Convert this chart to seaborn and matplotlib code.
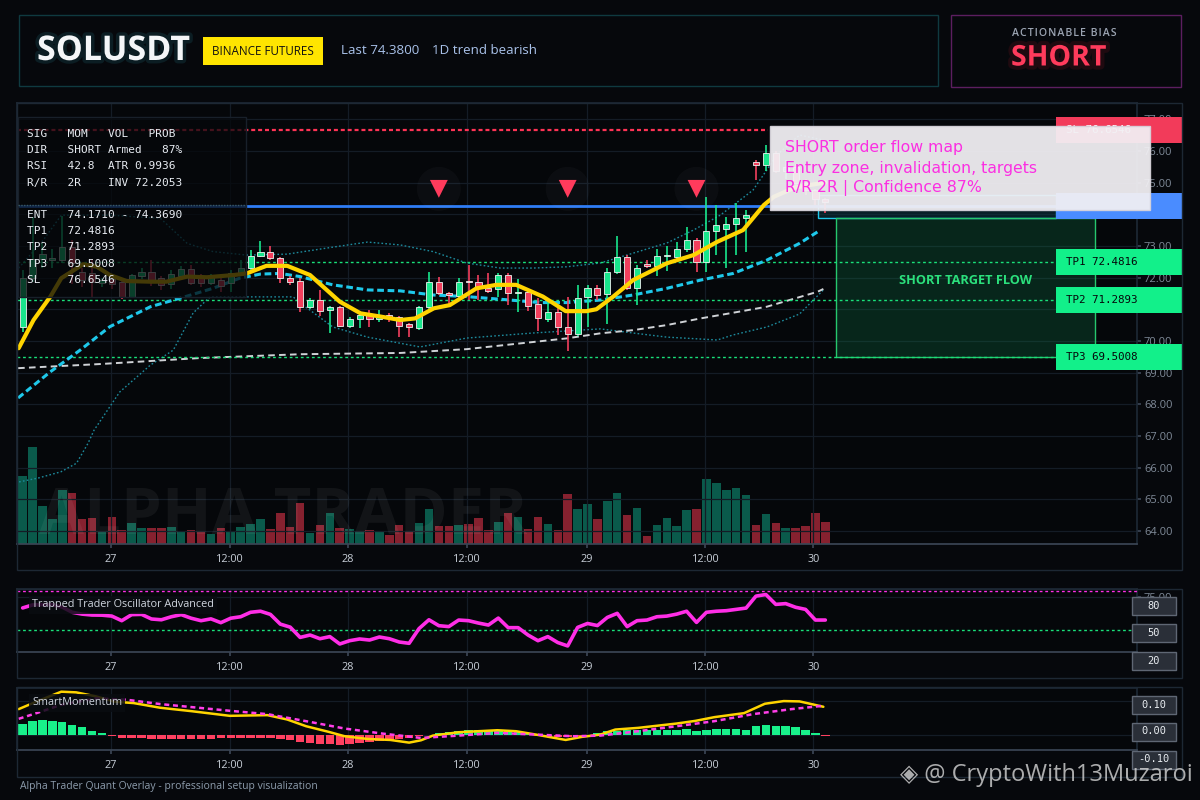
import matplotlib
matplotlib.use("Agg")
import matplotlib.pyplot as plt
import matplotlib.patheffects as pe
from matplotlib.patches import Rectangle
import numpy as np
import pandas as pd
import seaborn as sns

# hourly SOLUSDT candles
opens = [70.45, 72.00, 72.60, 72.55, 72.57, 72.97, 72.16, 72.13, 71.83, 71.95,
         71.87, 71.40, 72.06, 72.19, 71.98, 71.80, 72.06, 72.26, 72.03, 71.84,
         71.92, 71.82, 72.13, 72.31, 72.68, 72.80, 72.61, 72.00, 71.89, 71.06,
         71.29, 70.97, 71.06, 70.48, 70.68, 70.82, 70.68, 70.82, 70.75, 70.53,
         70.42, 71.06, 71.87, 71.50, 71.43, 71.88, 71.85, 71.66, 71.63, 72.08,
         71.52, 71.54, 71.16, 70.70, 70.90, 70.43, 70.21, 71.38, 71.66, 71.48,
         72.16, 72.64, 71.66, 72.43, 72.37, 72.67, 72.66, 72.89, 73.19, 72.50,
         73.46, 73.52, 73.69, 73.87, 75.66, 75.56, 75.93, 75.35, 75.50, 75.00,
         74.75, 74.48]
highs = [72.24, 73.90, 73.10, 72.90, 73.93, 73.20, 72.30, 72.60, 72.00, 72.10,
         72.00, 72.12, 72.30, 72.55, 72.05, 72.25, 72.35, 72.40, 72.10, 72.10,
         72.00, 72.24, 72.55, 72.87, 73.15, 73.01, 72.65, 72.05, 72.00, 71.35,
         71.61, 71.10, 71.10, 70.75, 70.85, 70.98, 70.98, 70.87, 70.80, 70.57,
         71.10, 72.17, 72.01, 71.55, 72.00, 72.40, 72.09, 72.15, 72.13, 72.13,
         71.94, 71.60, 71.34, 71.34, 71.03, 71.40, 71.76, 71.76, 71.76, 72.30,
         73.31, 72.70, 72.40, 72.55, 72.90, 73.01, 73.13, 73.60, 73.24, 74.54,
         74.29, 73.92, 74.34, 74.14, 75.71, 76.18, 76.00, 75.70, 75.60, 75.10,
         74.80, 74.52]
lows = [70.29, 71.85, 72.30, 72.30, 72.45, 71.80, 71.70, 71.40, 71.70, 71.65,
        71.31, 71.37, 71.95, 71.72, 71.60, 71.65, 71.95, 71.75, 71.70, 71.75,
        71.55, 71.55, 72.05, 72.24, 72.65, 72.55, 71.84, 71.78, 70.90, 71.00,
        70.79, 70.24, 70.45, 70.42, 70.40, 70.45, 70.60, 70.60, 70.11, 70.11,
        70.35, 71.00, 71.45, 71.16, 71.35, 71.30, 71.30, 71.50, 71.39, 71.13,
        70.90, 70.95, 70.30, 70.60, 70.19, 69.68, 70.14, 70.45, 71.30, 70.52,
        72.10, 71.60, 71.14, 72.30, 72.05, 72.20, 72.55, 72.80, 72.18, 72.18,
        72.71, 72.31, 72.71, 72.82, 75.08, 75.35, 75.30, 75.10, 74.90, 74.60,
        74.30, 74.05]
closes = [72.00, 72.60, 72.75, 72.62, 72.97, 72.45, 71.93, 71.87, 71.93, 71.80,
          71.40, 72.08, 72.19, 71.88, 71.77, 72.11, 72.26, 71.84, 71.82, 72.01,
          71.74, 72.13, 72.29, 72.69, 72.80, 72.61, 71.99, 71.87, 71.08, 71.29,
          70.96, 71.06, 70.48, 70.68, 70.82, 70.69, 70.82, 70.75, 70.48, 70.43,
          71.06, 71.85, 71.50, 71.44, 71.87, 71.86, 71.69, 71.59, 72.08, 71.52,
          71.54, 71.11, 70.71, 70.90, 70.43, 70.21, 71.34, 71.66, 71.45, 72.17,
          72.64, 71.66, 72.29, 72.37, 72.68, 72.69, 72.89, 73.19, 72.50, 73.47,
          73.66, 73.68, 73.89, 73.98, 75.56, 75.94, 75.35, 75.50, 75.00, 74.75,
          74.48, 74.38]
volumes = [204, 292, 114, 75, 162, 154, 75, 78, 39, 81,
           43, 63, 48, 48, 48, 51, 36, 43, 39, 30,
           49, 36, 51, 60, 75, 46, 93, 51, 123, 33,
           57, 93, 48, 46, 36, 43, 36, 27, 57, 36,
           63, 105, 54, 54, 57, 60, 78, 43, 66, 93,
           81, 46, 81, 60, 43, 150, 105, 120, 75, 130,
           153, 87, 108, 24, 57, 78, 54, 102, 105, 195,
           183, 162, 168, 147, 57, 90, 63, 48, 48, 54,
           93, 66]

date_ticks = [8.9, 20.9, 32.8, 44.8, 56.9, 68.9, 79.8]
date_labels = ["27", "12:00", "28", "12:00", "29", "12:00", "30"]

# overlays (x in candle index)
ema_x = [-0.4, 1.1, 2.8, 3.9, 6.1, 7.5, 8.8, 10.5, 12.9, 14.5, 16.6, 18.6, 21.3, 22.6,
         24.6, 26.7, 29.0, 32.0, 34.1, 36.1, 38.1, 39.6, 41.5, 43.1, 45.8, 47.8, 49.8,
         52.5, 54.8, 56.9, 57.9, 59.6, 61.6, 65.0, 67.7, 70.1, 72.7, 74.8, 75.8, 78.0, 81.0]
ema_y = [69.77, 70.66, 71.40, 71.98, 72.42, 72.34, 72.08, 71.89, 71.87, 71.87, 72.03, 72.01,
         72.08, 72.13, 72.37, 72.37, 72.08, 71.24, 70.87, 70.77, 70.66, 70.71, 71.03, 71.13,
         71.66, 71.77, 71.77, 71.40, 70.94, 70.94, 71.00, 71.40, 71.92, 72.45, 72.71, 73.13,
         73.50, 74.29, 74.55, 74.85, 75.00]
mid_x = [-0.46, 2.77, 5.8, 8.8, 12.9, 15.9, 19.2, 21.9, 24.0, 26.0, 28.0, 31.3, 34.8, 38.1,
         41.4, 44.8, 49.2, 52.2, 54.9, 58.3, 61.6, 65.0, 68.4, 71.7, 75.1, 78.4, 80.5]
mid_y = [68.20, 69.02, 69.71, 70.45, 71.08, 71.35, 71.66, 71.98, 72.11, 72.13, 72.03, 71.77,
         71.61, 71.58, 71.45, 71.40, 71.29, 71.21, 71.21, 71.29, 71.45, 71.66, 71.92, 72.13,
         72.55, 73.08, 73.50]
slow_x = [-0.46, 7.8, 17.9, 28.0, 38.1, 44.8, 54.9, 58.3, 61.6, 65.0, 68.4, 71.7, 75.1, 80.2, 80.8]
slow_y = [69.14, 69.27, 69.46, 69.58, 69.62, 69.74, 70.08, 70.24, 70.34, 70.50, 70.71, 70.89,
          71.08, 71.55, 71.64]
bb_up_x = [-0.4, 2.1, 3.9, 8.8, 13.9, 16.6, 19.2, 22.6, 26.7, 31.3, 34.8, 38.1, 41.4, 44.8,
           48.2, 51.5, 54.9, 58.3, 61.6, 65.0, 67.7, 70.4, 73.7, 75.1, 76.1, 78.4, 80.8]
bb_up_y = [72.30, 73.19, 73.97, 73.97, 73.87, 73.08, 72.82, 72.71, 72.74, 72.96, 73.12, 73.03,
           72.82, 72.46, 72.30, 72.30, 72.34, 72.46, 72.77, 73.09, 73.50, 73.97, 74.76, 75.40,
           75.87, 76.50, 76.34]
bb_lo_x = [-0.36, 1.55, 3.87, 5.44, 6.6, 7.2, 9.8, 12.9, 15.2, 17.2, 18.9, 27.3, 28.0, 31.3,
           34.8, 40.1, 44.8, 51.5, 58.3, 61.6, 65.0, 70.1, 71.7, 75.1, 78.4, 80.8]
bb_lo_y = [65.55, 65.67, 65.87, 66.14, 66.77, 67.18, 68.39, 69.24, 69.71, 70.88, 71.39, 71.39,
           71.20, 70.44, 70.12, 69.81, 70.09, 70.25, 70.38, 70.25, 70.12, 70.03, 70.19, 70.44,
           70.85, 71.61]

sell_idx = [42, 55, 68]
sell_level = 74.8

sl_price = 76.6546
ent_lo, ent_hi = 74.1710, 74.3690
inv_price = 72.2053
tp_names = ["TP1", "TP2", "TP3"]
tp_prices = [72.4816, 71.2893, 69.5008]
rsi, atr, prob, rr = 42.8, 0.9936, 87, "2R"

osc_values = [66.8, 69.1, 69.3, 69.3, 67.4, 63.5, 62.1, 61.4, 61.3, 60.6,
              57.1, 61.7, 61.9, 58.4, 57.8, 60.1, 61.7, 59.0, 57.1, 58.5,
              55.6, 59.0, 60.1, 63.5, 64.3, 61.9, 54.5, 52.2, 44.4, 46.2,
              43.4, 45.0, 39.4, 41.9, 43.2, 42.4, 44.7, 43.4, 40.9, 39.9,
              51.1, 57.8, 53.3, 52.6, 57.6, 57.1, 55.3, 53.8, 59.1, 51.8,
              51.8, 46.2, 41.9, 45.0, 40.5, 37.9, 52.0, 55.0, 53.4, 59.6,
              62.7, 52.6, 57.1, 57.6, 60.1, 60.6, 62.1, 64.3, 55.8, 63.5,
              64.3, 64.7, 65.7, 66.7, 75.8, 77.0, 69.5, 70.1, 67.3, 65.7,
              57.6, 57.6]
osc_levels = ["80", "50", "20"]

mom_hist = [0.034, 0.041, 0.044, 0.041, 0.040, 0.031, 0.023, 0.013, 0.007, -0.002,
            -0.008, -0.010, -0.010, -0.011, -0.011, -0.011, -0.011, -0.011, -0.011, -0.011,
            -0.010, -0.010, -0.010, -0.009, -0.009, -0.010, -0.012, -0.015, -0.020, -0.023,
            -0.026, -0.026, -0.029, -0.027, -0.023, -0.021, -0.019, -0.015, -0.012, -0.008,
            -0.003, -0.001, 0.005, 0.009, 0.012, 0.014, 0.014, 0.014, 0.013, 0.011,
            0.008, 0.003, -0.004, -0.005, -0.006, -0.006, -0.004, -0.002, 0.006, 0.011,
            0.011, 0.014, 0.014, 0.014, 0.016, 0.016, 0.016, 0.019, 0.013, 0.016,
            0.019, 0.019, 0.019, 0.016, 0.026, 0.031, 0.028, 0.026, 0.023, 0.015,
            0.007, -0.003]
mom_x = [-0.4, 1.6, 3.9, 5.4, 7.4, 9.3, 11.2, 13.9, 17.0, 20.9, 24.7, 26.7, 28.6, 30.9,
         32.5, 34.8, 37.1, 39.0, 40.2, 41.4, 44.0, 47.9, 49.8, 51.8, 54.8, 56.4, 58.3,
         59.8, 62.1, 66.0, 67.9, 69.8, 72.8, 74.9, 76.8, 78.4, 80.8]
mom_y = [0.077, 0.102, 0.129, 0.127, 0.115, 0.099, 0.095, 0.081, 0.071, 0.057, 0.059,
         0.046, 0.026, 0.009, -0.004, -0.012, -0.015, -0.023, -0.016, -0.002, 0.008,
         0.014, 0.011, 0.001, -0.015, -0.006, 0.001, 0.016, 0.021, 0.034, 0.042, 0.053,
         0.065, 0.093, 0.101, 0.100, 0.084]
sig_x = [-0.4, 1.6, 3.9, 7.4, 10.5, 13.9, 20.9, 24.7, 28.6, 32.5, 36.3, 40.2, 44.0, 47.9,
         51.8, 55.6, 58.3, 62.1, 66.0, 69.8, 73.7, 77.6, 80.8]
sig_y = [0.048, 0.067, 0.090, 0.109, 0.105, 0.092, 0.072, 0.062, 0.041, 0.019, 0.004,
         -0.009, -0.002, 0.006, 0.001, -0.004, -0.002, 0.011, 0.026, 0.041, 0.062, 0.077,
         0.087]
mom_levels = ["0.10", "0.00", "-0.10"]

BG = "#06080c"
PANEL = "#05070a"
GRID = "#141c26"
FRAME = "#1d2834"
GREEN = "#18e68c"
RED = "#f23f5d"
MONO = "DejaVu Sans Mono"

sns.set_theme(style="dark", rc={"axes.facecolor": PANEL, "figure.facecolor": BG})
plt.rcParams["font.family"] = ["Open Sans", "DejaVu Sans"]

W, H = 1200, 800
fig = plt.figure(figsize=(12, 8), dpi=100, facecolor=BG)


def rect(x0, y0, x1, y1):
    return [x0 / W, 1 - y1 / H, (x1 - x0) / W, (y1 - y0) / H]


def fig_box(x0, y0, x1, y1, z=2, **kw):
    fig.add_artist(Rectangle((x0 / W, 1 - y1 / H), (x1 - x0) / W, (y1 - y0) / H,
                             transform=fig.transFigure, zorder=z, **kw))


def ftext(x, y, s, **kw):
    return fig.text(x / W, 1 - y / H, s, **kw)


def style_axes(a):
    a.set_facecolor(PANEL)
    for side in ["left", "top", "right"]:
        a.spines[side].set_color(FRAME)
    a.spines["bottom"].set_color("#3a4554")
    a.tick_params(axis="x", colors="#3a4554", labelcolor="#c8cfd8", labelsize=7.8,
                  length=3, pad=4, bottom=True)
    a.grid(True, color=GRID, linewidth=0.9)
    a.set_axisbelow(True)


df = pd.DataFrame({"open": opens, "high": highs, "low": lows, "close": closes,
                   "volume": volumes})
df["idx"] = np.arange(len(df))
up = df["close"] >= df["open"]

# main price panel (volume underneath on its own scale)
vol_ax = fig.add_axes(rect(17, 103, 1137, 544))
ax = fig.add_axes(rect(17, 103, 1137, 544), sharex=vol_ax)
ax.set_zorder(1)
ax.patch.set_visible(False)
vol_ax.set_facecolor(PANEL)
vol_ax.bar(df["idx"], df["volume"], width=0.86,
           color=np.where(up, "#0a5a4b", "#86212f"), linewidth=0)
vol_ax.set_ylim(0, max(volumes) * 4.55)
vol_ax.set_yticks([])
vol_ax.tick_params(bottom=False, labelbottom=False)
for s in vol_ax.spines.values():
    s.set_visible(False)

style_axes(ax)
ax.set_xlim(-0.57, 112.45)
ax.set_ylim(63.59, 77.51)
ax.set_xticks(date_ticks, date_labels)
ax.set_yticks(np.arange(64, 78))
ax.yaxis.set_major_formatter("{x:.2f}")
ax.yaxis.tick_right()
ax.tick_params(axis="y", colors="#3a4554", labelcolor="#7f8a98", labelsize=8, length=3, pad=2)
ax.set_xlabel("")
ax.set_ylabel("")

# bands and averages
sns.lineplot(x=bb_up_x, y=bb_up_y, ax=ax, color="#1d8a9c", lw=1.0,
             linestyle=(0, (1.2, 1.6)), zorder=3)
sns.lineplot(x=bb_lo_x, y=bb_lo_y, ax=ax, color="#1d8a9c", lw=1.0,
             linestyle=(0, (1.2, 1.6)), zorder=3)
sns.lineplot(x=slow_x, y=slow_y, ax=ax, color="#cfd2d6", lw=1.4,
             linestyle=(0, (3.4, 2.2)), zorder=3)
sns.lineplot(x=mid_x, y=mid_y, ax=ax, color="#1ec8ea", lw=2.2,
             linestyle=(0, (2.2, 1.2)), zorder=3.5)

# trade levels
ax.hlines(sl_price, -0.57, 75.2, color="#ff3355", lw=1.6, linestyles=[(0, (1.8, 1.3))], zorder=3)
ax.hlines((ent_lo + ent_hi) / 2, -0.57, 104.3, color="#2f7df6", lw=2.0, zorder=3)
for p in tp_prices:
    ax.hlines(p, -0.57, 104.3, color="#19e07a", lw=1.0, linestyles=[(0, (2, 2))], zorder=3)
ax.add_patch(Rectangle((80.3, ent_lo - 0.3), 24.0, ent_hi - ent_lo + 0.55,
                       facecolor="#0b3440", alpha=0.55, edgecolor="none", zorder=2))
ax.add_patch(Rectangle((80.3, ent_lo - 0.3), 24.0, ent_hi - ent_lo + 0.55,
                       facecolor="none", edgecolor="#1fc6e8", lw=1.0, zorder=2.1))
tgt_top = ent_lo - 0.3
ax.add_patch(Rectangle((82.1, tp_prices[-1]), 26.1, tgt_top - tp_prices[-1],
                       facecolor="#0e6a40", alpha=0.32, edgecolor="none", zorder=2))
ax.add_patch(Rectangle((82.1, tp_prices[-1]), 26.1, tgt_top - tp_prices[-1],
                       facecolor="none", edgecolor="#26c86e", lw=1.0, zorder=2.1))
ax.text(95.2, 71.92, "SHORT TARGET FLOW", color="#2be07c", fontsize=9.2,
        fontweight="bold", ha="center", va="center", zorder=3)

# candles
colors = np.where(up, GREEN, RED)
ax.vlines(df["idx"], df["low"], df["high"], colors=colors, lw=1.2, zorder=4)
ax.bar(df["idx"], (df["close"] - df["open"]).abs().clip(lower=0.03),
       bottom=np.minimum(df["open"], df["close"]), width=0.62, color=colors,
       edgecolor="#eef3f1", linewidth=0.6, zorder=5)

sns.lineplot(x=ema_x, y=ema_y, ax=ax, color="#ffd400", lw=3.0, zorder=6)

# sell markers with a soft halo
sns.scatterplot(x=sell_idx, y=[sell_level] * len(sell_idx), ax=ax, marker="o", s=1000,
                color="#c8c8d8", alpha=0.035, edgecolor="none", zorder=6.5)
sns.scatterplot(x=sell_idx, y=[sell_level] * len(sell_idx), ax=ax, marker="v", s=165,
                color="#ff3b5c", edgecolor="none", zorder=7)


# right-side price tags
def tag(price, text, face, tcolor):
    ax.add_patch(Rectangle((104.3, price - 0.41), 12.7, 0.82, facecolor=face,
                           edgecolor="none", clip_on=False, zorder=8))
    if text:
        ax.text(105.3, price, text, color=tcolor, fontsize=7.8, family=MONO,
                va="center", ha="left", zorder=9)


tag(sl_price, f"SL {sl_price:.4f}", "#f23b5a", "white")
tag((ent_lo + ent_hi) / 2, "", "#4a8cff", "white")
for n, p in zip(tp_names, tp_prices):
    tag(p, f"{n} {p:.4f}", "#12f08a", "#05070a")

# oscillator panel
osc_ax = fig.add_axes(rect(17, 589, 1137, 652), sharex=vol_ax)
style_axes(osc_ax)
sns.lineplot(x=df["idx"], y=osc_values, ax=osc_ax, color="#ff2ee6", lw=2.6, zorder=4)
osc_ax.axhline(80, color="#ff2ee6", lw=1.0, linestyle=(0, (2, 2)), zorder=3)
osc_ax.axhline(50, color="#19e07a", lw=1.0, linestyle=(0, (2, 2)), zorder=3)
osc_ax.set_ylim(33.3, 81.2)
osc_ax.set_yticks([75])
osc_ax.yaxis.set_major_formatter("{x:.2f}")
osc_ax.yaxis.tick_right()
osc_ax.tick_params(axis="y", colors="#3a4554", labelcolor="#7f8a98", labelsize=8, length=3, pad=2)
osc_ax.set_xticks(date_ticks, date_labels)
osc_ax.set_xlabel("")
osc_ax.set_ylabel("")
osc_ax.text(0.0134, 0.75, "Trapped Trader Oscillator Advanced", transform=osc_ax.transAxes,
            color="#cfd5de", fontsize=7.8, va="center", ha="left", zorder=6,
            bbox=dict(boxstyle="square,pad=0.3", facecolor="#090c11", edgecolor="none", alpha=0.85))

# momentum panel
mom_ax = fig.add_axes(rect(17, 688, 1137, 750), sharex=vol_ax)
style_axes(mom_ax)
mom_ax.bar(df["idx"], mom_hist, width=0.85,
           color=["#18f08a" if v >= 0 else "#ff4060" for v in mom_hist], linewidth=0, zorder=2)
sns.lineplot(x=mom_x, y=mom_y, ax=mom_ax, color="#ffd400", lw=1.8, zorder=4)
sns.lineplot(x=sig_x, y=sig_y, ax=mom_ax, color="#ff3ee8", lw=1.8,
             linestyle=(0, (2, 1.5)), zorder=4)
mom_ax.set_ylim(-0.045, 0.14)
mom_ax.set_yticks([0.0, 0.1])
mom_ax.tick_params(axis="y", left=False, right=False, labelleft=False)
mom_ax.set_xticks(date_ticks, date_labels)
mom_ax.set_xlabel("")
mom_ax.set_ylabel("")
mom_ax.text(0.0134, 0.76, "SmartMomentum", transform=mom_ax.transAxes,
            color="#cfd5de", fontsize=7.8, va="center", ha="left", zorder=6,
            bbox=dict(boxstyle="square,pad=0.3", facecolor="#090c11", edgecolor="none", alpha=0.85))

# level chips to the right of the lower panels
for lab, ypx in zip(osc_levels + mom_levels, [606, 633, 661, 704.5, 731.5, 759.5]):
    fig_box(1132, ypx - 9, 1176, ypx + 9, z=5, facecolor="#2a2f38", edgecolor="#5f6774", lw=1)
    ftext(1154, ypx, lab, ha="center", va="center", color="#e8ecf0", fontsize=7.5,
          family=MONO, zorder=6)

# panel frames
fig_box(17, 103, 1182, 570, facecolor="none", edgecolor=FRAME, lw=1)
fig_box(17, 589, 1182, 678, facecolor="none", edgecolor=FRAME, lw=1)
fig_box(17, 687, 1182, 777, facecolor="none", edgecolor=FRAME, lw=1)

# faint watermark across the volume area
ftext(283, 518, "ALPHA TRADER", color="white", alpha=0.055, fontsize=47,
      fontweight="bold", ha="center", va="center", zorder=3)

# stats table
fig_box(18, 117, 246, 297, z=15, facecolor="#05070a", alpha=0.75, edgecolor="none")
fig_box(18, 117, 246, 297, z=15, facecolor="none", edgecolor="#18202a", lw=1)
fig.add_artist(plt.Line2D([18 / W, 246 / W], [1 - 205 / H, 1 - 205 / H], transform=fig.transFigure,
                          color="#3a5a66", lw=1, linestyle=(0, (1, 1)), zorder=16))
table_rows = [
    (134, "SIG   MOM   VOL   PROB"),
    (150, f"DIR   SHORT Armed   {prob}%"),
    (166, f"RSI   {rsi:<4}  ATR {atr:.4f}"),
    (183, f"R/R   {rr:<4}  INV {inv_price:.4f}"),
    (215, f"ENT   {ent_lo:.4f} - {ent_hi:.4f}"),
]
table_rows += [(231 + 16.5 * i, f"{n}   {p:.4f}") for i, (n, p) in enumerate(zip(tp_names, tp_prices))]
table_rows.append((280, f"SL    {sl_price:.4f}"))
for ypx, line in table_rows:
    ftext(27, ypx, line, color="#e8ecf2", fontsize=8, family=MONO, va="center", zorder=16)

# callout box
fig_box(770, 126, 1150, 210, z=20, facecolor="#f2f0f4", alpha=0.94, edgecolor="#d6d2da", lw=1)
for ypx, line in zip([147.5, 168, 188.5], ["SHORT order flow map",
                                          "Entry zone, invalidation, targets",
                                          f"R/R {rr} | Confidence {prob}%"]):
    ftext(785, ypx, line, color="#fb2fe2", fontsize=11.3, family="DejaVu Sans",
          va="center", zorder=21)

# header
fig_box(19, 15, 938, 86, facecolor="none", edgecolor="#0f3a40", lw=1)
ftext(37, 51, "SOLUSDT", color="#f4f6f8", fontsize=24.5, fontweight="bold", va="center",
      path_effects=[pe.withStroke(linewidth=5, foreground="#0b1d23")])
fig_box(203, 37, 323, 65, z=3, facecolor="#ffe500", edgecolor="none")
ftext(263, 51.5, "BINANCE FUTURES", color="#111111", fontsize=8.4, ha="center", va="center", zorder=4)
ftext(341, 51, f"Last {closes[-1]:.4f}", color="#a9c2ea", fontsize=9.6, va="center")
ftext(432, 51, "1D trend bearish", color="#a9c2ea", fontsize=9.6, va="center")

fig_box(951, 15, 1181, 87, facecolor="none", edgecolor="#5c1e60", lw=1)
ftext(1012, 34, "\u200a".join("ACTIONABLE BIAS"), color="#9ba4b2", fontsize=7.6,
      va="center", fontweight="semibold")
ftext(1011, 58, "SHORT", color="#ff3b5c", fontsize=20.5, fontweight="bold", va="center",
      path_effects=[pe.withStroke(linewidth=6, foreground="#1f0a10")])

# footer
ftext(20, 787, "Alpha Trader Quant Overlay - professional setup visualization",
      color="#8d9cac", fontsize=7.5, va="center")
ftext(900, 775, "\u25c8 @ CryptoWith13Muzaroi", color="#d6d6d6", alpha=0.8, fontsize=17,
      va="center", zorder=25)

fig.savefig("out.png", dpi=100, facecolor=BG)
